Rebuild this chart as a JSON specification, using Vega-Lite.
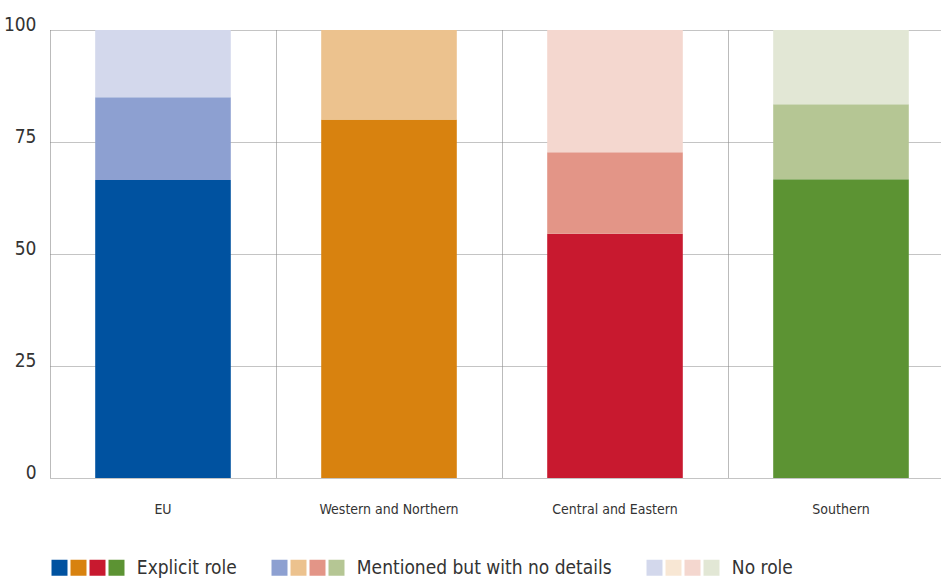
{
  "$schema": "https://vega.github.io/schema/vega-lite/v6.json",
  "width": 891,
  "height": 448,
  "autosize": {"type": "none"},
  "padding": {"left": 50, "top": 30, "right": 0, "bottom": 100},
  "background": "white",
  "config": {
    "view": {"stroke": null},
    "font": "DejaVu Sans Condensed, Liberation Sans Narrow, Roboto, sans-serif",
    "axis": {"labelFont": "DejaVu Sans Condensed, Liberation Sans Narrow, Roboto, sans-serif", "labelColor": "#333333"},
    "legend": {"labelFont": "DejaVu Sans Condensed, Liberation Sans Narrow, Roboto, sans-serif", "labelColor": "#333333"}
  },
  "data": {
    "values": [
      {"region": "EU", "role": "Explicit role", "o": 1, "value": 66.5},
      {"region": "EU", "role": "Mentioned but with no details", "o": 2, "value": 18.5},
      {"region": "EU", "role": "No role", "o": 3, "value": 15},
      {"region": "Western and Northern", "role": "Explicit role", "o": 1, "value": 80},
      {"region": "Western and Northern", "role": "Mentioned but with no details", "o": 2, "value": 20},
      {"region": "Western and Northern", "role": "No role", "o": 3, "value": 0},
      {"region": "Central and Eastern", "role": "Explicit role", "o": 1, "value": 54.5},
      {"region": "Central and Eastern", "role": "Mentioned but with no details", "o": 2, "value": 18.2},
      {"region": "Central and Eastern", "role": "No role", "o": 3, "value": 27.3},
      {"region": "Southern", "role": "Explicit role", "o": 1, "value": 66.7},
      {"region": "Southern", "role": "Mentioned but with no details", "o": 2, "value": 16.7},
      {"region": "Southern", "role": "No role", "o": 3, "value": 16.6}
    ]
  },
  "transform": [
    {"calculate": "datum.role + '|' + datum.region", "as": "key"}
  ],
  "mark": {"type": "bar", "width": {"band": 0.6}},
  "encoding": {
    "x": {
      "field": "region",
      "type": "nominal",
      "sort": ["EU", "Western and Northern", "Central and Eastern", "Southern"],
      "scale": {"range": [0, 904], "paddingInner": 0, "paddingOuter": 0},
      "axis": {
        "title": null,
        "labelAngle": 0,
        "labelFontSize": 14,
        "labelPadding": 24,
        "ticks": false,
        "domain": false,
        "grid": true,
        "bandPosition": 0,
        "gridColor": "#777777",
        "gridDash": [1, 1],
        "gridWidth": 1
      }
    },
    "y": {
      "field": "value",
      "type": "quantitative",
      "stack": "zero",
      "scale": {"domain": [0, 100], "nice": false},
      "axis": {
        "title": null,
        "values": [0, 25, 50, 75, 100],
        "labelFontSize": 19,
        "labelBaseline": "alphabetic",
        "labelPadding": 14,
        "ticks": false,
        "domain": false,
        "grid": true,
        "gridColor": "#888888",
        "gridDash": [1, 1],
        "gridWidth": 1
      }
    },
    "order": {"field": "o", "type": "quantitative"},
    "color": {
      "field": "key",
      "type": "nominal",
      "scale": {
        "domain": [
          "Explicit role|EU", "Explicit role|Western and Northern", "Explicit role|Central and Eastern", "Explicit role|Southern",
          "Mentioned but with no details|EU", "Mentioned but with no details|Western and Northern", "Mentioned but with no details|Central and Eastern", "Mentioned but with no details|Southern",
          "No role|EU", "No role|Western and Northern", "No role|Central and Eastern", "No role|Southern"
        ],
        "range": [
          "#0052a0", "#d8820f", "#c8192f", "#5c9333",
          "#8da0d1", "#ecc28e", "#e39587", "#b5c694",
          "#d3d8ec", "#f8e7d4", "#f4d7cf", "#e2e7d5"
        ]
      },
      "legend": {
        "title": null,
        "orient": "bottom",
        "direction": "horizontal",
        "columns": 12,
        "columnPadding": -2,
        "symbolType": "square",
        "symbolSize": 256,
        "symbolStrokeWidth": 0,
        "labelFontSize": 19,
        "labelOffset": 0,
        "labelLimit": 500,
        "offset": 42,
        "labelExpr": "indexof(datum.label, 'Southern') >= 0 ? '\\u200b\\u00a0\\u00a0' + split(datum.label, '|')[0] + '\\u00a0\\u00a0\\u00a0\\u00a0\\u00a0\\u00a0\\u200b' : ''"
      }
    }
  }
}
